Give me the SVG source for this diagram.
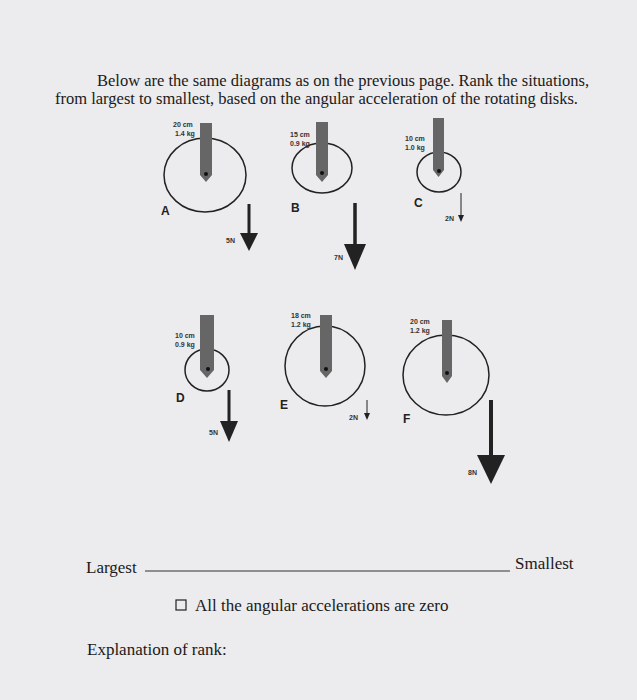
<svg xmlns="http://www.w3.org/2000/svg" width="637" height="700" viewBox="0 0 637 700">
<style>
.t{font-family:"Liberation Serif",serif;font-size:16.5px;fill:#1a1a1a}
.b{font-size:17px}
.s{font-family:"Liberation Sans",Arial,sans-serif;font-size:7px;font-weight:bold;fill:#333}
.l{font-family:"Liberation Sans",Arial,sans-serif;font-size:12px;font-weight:bold;fill:#222}
.disk{fill:none;stroke:#222;stroke-width:1.5}
.bar{fill:#666}
.dot{fill:#111}
.ar{stroke:#222;fill:none}
.hd{fill:#222}
</style>
<rect width="637" height="700" fill="#ecebed"/>
<text class="t" x="97" y="86">Below are the same diagrams as on the previous page.  Rank the situations,</text>
<text class="t" x="55" y="104">from largest to smallest, based on the angular acceleration of the rotating disks.</text>
<g id="A">
<ellipse class="disk" cx="205" cy="175" rx="41" ry="37"/>
<path class="bar" d="M200 123h12v52l-6 7l-6-7z"/>
<circle class="dot" cx="206" cy="174" r="2"/>
<text class="s" x="173" y="127">20 cm</text><text class="s" x="175" y="136">1.4 kg</text>
<text class="l" x="161" y="215">A</text>
</g>
<g id="B">
<ellipse class="disk" cx="322" cy="168" rx="30" ry="25"/>
<path class="bar" d="M316 122h12v53l-6 7l-6-7z"/>
<circle class="dot" cx="322" cy="173" r="2"/>
<text class="s" x="290" y="137">15 cm</text><text class="s" x="290" y="146">0.9 kg</text>
<text class="l" x="291" y="212">B</text>
</g>
<g id="C">
<ellipse class="disk" cx="439" cy="172" rx="22" ry="20"/>
<path class="bar" d="M433 118h11v52l-5.5 7l-5.5-7z"/>
<circle class="dot" cx="439" cy="171" r="2"/>
<text class="s" x="405" y="141">10 cm</text><text class="s" x="405" y="150">1.0 kg</text>
<text class="l" x="414" y="207">C</text>
</g>
<g id="D">
<ellipse class="disk" cx="207" cy="370" rx="22" ry="21"/>
<path class="bar" d="M200 315h14v55l-7 8l-7-8z"/>
<circle class="dot" cx="208" cy="369" r="2"/>
<text class="s" x="175" y="338">10 cm</text><text class="s" x="175" y="347">0.9 kg</text>
<text class="l" x="176" y="402">D</text>
</g>
<g id="E">
<ellipse class="disk" cx="325" cy="366" rx="40" ry="40"/>
<path class="bar" d="M320 315h12v56l-6 7l-6-7z"/>
<circle class="dot" cx="326" cy="369" r="2"/>
<text class="s" x="291" y="318">18 cm</text><text class="s" x="291" y="327">1.2 kg</text>
<text class="l" x="280" y="409">E</text>
</g>
<g id="F">
<ellipse class="disk" cx="446" cy="375" rx="43" ry="40"/>
<path class="bar" d="M442 320h10v56l-5 7l-5-7z"/>
<circle class="dot" cx="447" cy="373" r="2"/>
<text class="s" x="410" y="324">20 cm</text><text class="s" x="410" y="333">1.2 kg</text>
<text class="l" x="403" y="423">F</text>
</g>
<g id="connectors">
<line class="ar" x1="249" y1="204" x2="249" y2="236" stroke-width="3"/><path class="hd" d="M240 233h18l-9 18z"/>
<text class="s" x="226" y="243">5N</text>
<line class="ar" x1="355" y1="203" x2="355" y2="248" stroke-width="3.5"/><path class="hd" d="M344 244h22l-11 26z"/>
<text class="s" x="334" y="260">7N</text>
<line class="ar" x1="461" y1="193" x2="461" y2="217" stroke-width="1"/><path class="hd" d="M458 215h6l-3 7z"/>
<text class="s" x="445" y="221">2N</text>
<line class="ar" x1="229" y1="390" x2="229" y2="424" stroke-width="3"/><path class="hd" d="M220 421h18l-9 21z"/>
<text class="s" x="209" y="435">5N</text>
<line class="ar" x1="367" y1="400" x2="367" y2="414" stroke-width="1"/><path class="hd" d="M364 413h6l-3 7z"/>
<text class="s" x="349" y="420">2N</text>
<line class="ar" x1="491" y1="400" x2="491" y2="460" stroke-width="4"/><path class="hd" d="M477 455h28l-14 29z"/>
<text class="s" x="468" y="475">8N</text>
</g>
<text class="t b" x="86" y="573">Largest</text>
<line x1="145" y1="571" x2="510" y2="571" stroke="#333" stroke-width="1"/>
<text class="t b" x="515" y="569">Smallest</text>
<rect x="176" y="600" width="10" height="10" fill="none" stroke="#222" stroke-width="1.2"/>
<text class="t b" x="195" y="611">All the angular accelerations are zero</text>
<text class="t b" x="87" y="655">Explanation of rank:</text>
</svg>
